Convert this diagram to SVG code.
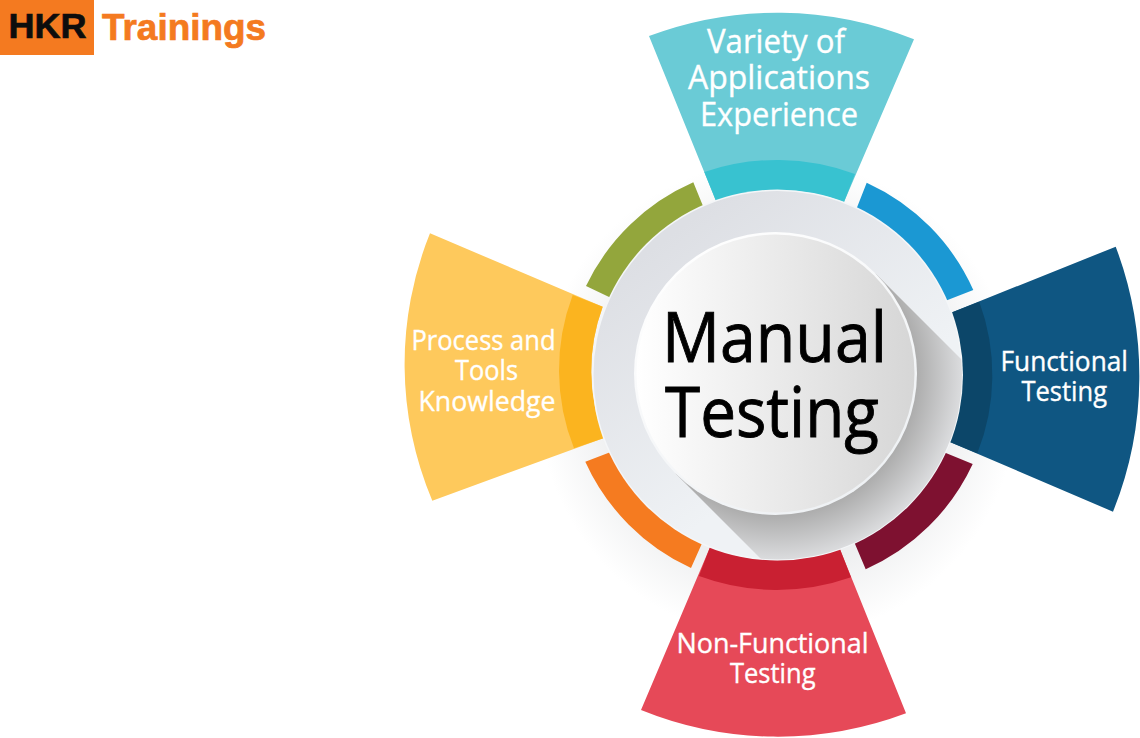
<svg xmlns="http://www.w3.org/2000/svg" width="1140" height="738" viewBox="0 0 1140 738">
<style>
text{font-family:"Open Sans","Noto Sans","Liberation Sans",sans-serif}
.w{fill:#fff;stroke:#fff;stroke-width:.35px;font-size:26.5px}
.w2{fill:#fff;stroke:#fff;stroke-width:.35px;font-size:33px}
.c{fill:#000;stroke:#000;stroke-width:.9px;font-size:69px}
.logo{font-family:"Liberation Sans",Arial,sans-serif;font-weight:700;stroke-width:.7px}
</style>
<defs>
<radialGradient id="halo" gradientUnits="userSpaceOnUse" cx="778" cy="400" r="240">
<stop offset="0.7" stop-color="#eeeff0"/><stop offset="1" stop-color="#fff"/>
</radialGradient>
<linearGradient id="disc" gradientUnits="userSpaceOnUse" x1="650" y1="250" x2="800" y2="450">
<stop offset="0" stop-color="#dddfe4"/><stop offset="1" stop-color="#eff2f5"/>
</linearGradient>
<radialGradient id="cast" gradientUnits="userSpaceOnUse" cx="776" cy="374" r="188">
<stop offset="0.75" stop-color="#adadad"/><stop offset="1" stop-color="#dddee0"/>
</radialGradient>
<linearGradient id="face" x1="0" y1="0" x2="1" y2="0">
<stop offset="0" stop-color="#fff"/><stop offset="1" stop-color="#d6d6d6"/>
</linearGradient>
<linearGradient id="rim" x1="0.2" y1="0" x2="0.8" y2="1">
<stop offset="0" stop-color="#fff"/><stop offset="1" stop-color="#edf0f3"/>
</linearGradient>
<clipPath id="discClip"><circle cx="777.5" cy="375" r="184.5"/></clipPath>
</defs>

<circle id="halo-shadow" cx="778" cy="400" r="240" fill="url(#halo)"/>

<g id="ring-green"><path fill="#93a63c" d="M586,286A214,214 0 0 1 693.3,182.3L704.3,209.3A184,184 0 0 0 613.3,299Z"/></g>
<g id="ring-blue"><path fill="#1b98d3" d="M866.7,182.7A214,214 0 0 1 973.3,290L945.7,300.7A184,184 0 0 0 856,210Z"/></g>
<g id="ring-maroon"><path fill="#7e1130" d="M972.7,464A214,214 0 0 1 865.7,569.3L854.3,542.3A184,184 0 0 0 944,452.3Z"/></g>
<g id="ring-orange"><path fill="#f57b20" d="M691,568A214,214 0 0 1 585.3,461.7L613.3,451A184,184 0 0 0 702.7,541.7Z"/></g>

<g id="node-variety">
<path fill="#6acbd6" d="M649,36A364,364 0 0 1 914,39.3L844,202A184,184 0 0 0 716,201Z"/>
<path fill="#38c2d0" d="M704.3,172A225,225 0 0 1 855,174L844,202A184,184 0 0 0 716,201Z"/>
<text class="w2" x="707" y="53" textLength="138" lengthAdjust="spacingAndGlyphs">Variety of</text>
<text class="w2" x="688" y="89" textLength="182" lengthAdjust="spacingAndGlyphs">Applications</text>
<text class="w2" x="700" y="125.5" textLength="158" lengthAdjust="spacingAndGlyphs">Experience</text>
</g>
<g id="node-process">
<path fill="#fec95c" d="M430,233.3A350,350 0 0 0 432.3,500.7L604,438A184,184 0 0 1 602.7,306.7Z"/>
<path fill="#fbb41f" d="M572.7,295A212,212 0 0 0 574,448.3L604,438A184,184 0 0 1 602.7,306.7Z"/>
<text class="w" x="411.5" y="349.5" textLength="144" lengthAdjust="spacingAndGlyphs">Process and</text>
<text class="w" x="455" y="379.5" textLength="63" lengthAdjust="spacingAndGlyphs">Tools</text>
<text class="w" x="418.5" y="410.5" textLength="137" lengthAdjust="spacingAndGlyphs">Knowledge</text>
</g>
<g id="node-functional">
<path fill="#0f5682" d="M1115.7,246.7A364,364 0 0 1 1113,511.7L949.3,441.7A184,184 0 0 0 951,312.7Z"/>
<path fill="#0c4669" d="M979.3,301.7A212,212 0 0 1 977.3,453.3L949.3,441.7A184,184 0 0 0 951,312.7Z"/>
<text class="w" x="1000.5" y="370.5" textLength="127.5" lengthAdjust="spacingAndGlyphs">Functional</text>
<text class="w" x="1021.5" y="400.5" textLength="85.5" lengthAdjust="spacingAndGlyphs">Testing</text>
</g>
<g id="node-nonfunctional">
<path fill="#e64958" d="M906,713.3A364,364 0 0 1 641,710L710,547.3A184,184 0 0 0 840,549.3Z"/>
<path fill="#c92032" d="M851,577.3A224,224 0 0 1 699,576L710,547.3A184,184 0 0 0 840,549.3Z"/>
<text class="w" x="676.5" y="653" textLength="192" lengthAdjust="spacingAndGlyphs">Non-Functional</text>
<text class="w" x="730" y="683" textLength="85.5" lengthAdjust="spacingAndGlyphs">Testing</text>
</g>

<g id="node-manual-testing">
<circle cx="777.5" cy="375" r="185.5" fill="#f4f6f8"/>
<circle cx="777.5" cy="375" r="184" fill="url(#disc)"/>
<path clip-path="url(#discClip)" fill="url(#cast)" d="M875.5,273.5L975,373L985,520L775,573L675.5,473.5Z"/>
<circle cx="775.5" cy="373.5" r="141.5" fill="url(#rim)"/>
<circle cx="775.5" cy="373.5" r="139" fill="url(#face)"/>
<text class="c" x="662" y="362" textLength="225" lengthAdjust="spacingAndGlyphs">Manual</text>
<text class="c" x="665" y="436.5" textLength="214" lengthAdjust="spacingAndGlyphs">Testing</text>
</g>

<g id="logo">
<rect x="0" y="0" width="94" height="55" fill="#f47a20"/>
<text class="logo" x="8.5" y="38" fill="#0d0d0d" stroke="#0d0d0d" font-size="35" textLength="78" lengthAdjust="spacingAndGlyphs">HKR</text>
<text class="logo" x="102" y="39.5" fill="#f47a20" stroke="#f47a20" font-size="36" textLength="164" lengthAdjust="spacingAndGlyphs">Trainings</text>
</g>
</svg>
